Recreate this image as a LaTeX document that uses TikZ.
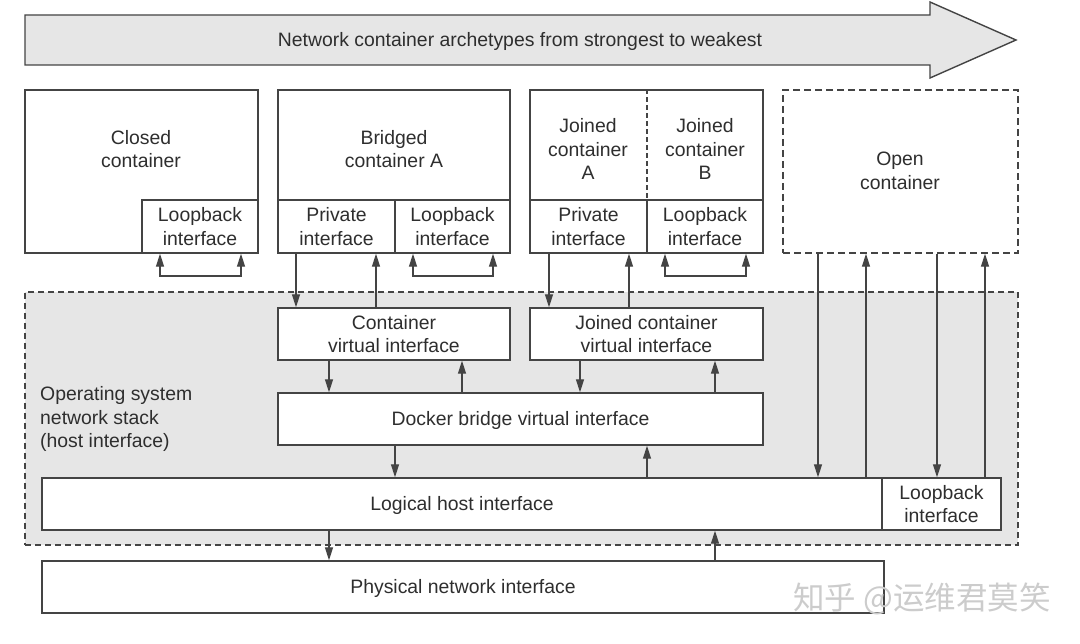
\documentclass[tikz,border=0pt]{standalone}
\usepackage{fontspec}
\setmainfont{Liberation Sans}
\newfontfamily\cjk{Noto Sans CJK SC}
\usetikzlibrary{arrows.meta}
\definecolor{ln}{HTML}{444444}
\definecolor{tx}{HTML}{2E2E2E}
\definecolor{fl}{HTML}{E6E6E6}
\begin{document}
\begin{tikzpicture}[x=1pt,y=-1pt,
  box/.style={draw=ln, line width=1.4pt, fill=white, inner sep=0pt, text=tx, align=center, font=\fontsize{19.4}{23.5}\selectfont},
  oneline/.style={text height=13.8pt, text depth=0pt},
  lbl/.style={text=tx, align=center, inner sep=0pt, font=\fontsize{19.4}{23.5}\selectfont},
  arr/.style={draw=ln, line width=1.3pt, -{Triangle[length=13pt,width=8pt]}},
  arrtwo/.style={draw=ln, line width=1.3pt, {Triangle[length=13pt,width=8pt]}-{Triangle[length=13pt,width=8pt]}},
  dsh/.style={dash pattern=on 7pt off 4pt}
]
\useasboundingbox (0,0) rectangle (1080,644);
\fill[white] (0,0) rectangle (1080,644);

% column and row coordinates
\foreach \c in {160,241,296,329,376,395,413,462,493,549,580,629,647,665,715,746,818,866,937,985}
  \coordinate (c\c) at (\c,0);
\coordinate (r276) at (0,276);

% top arrow
\draw[draw=ln, line width=1.4pt, fill=fl, line join=miter]
  (25,15) -- (930,15) -- (930,2) -- (1016,40) -- (930,78) -- (930,65) -- (25,65) -- cycle;
\node[lbl, oneline] (title) at (520,40) {Network container archetypes from strongest to weakest};

% OS region
\node[draw=ln, line width=1.2pt, fill=fl, dash pattern=on 6pt off 4pt, inner sep=0pt,
  minimum width=993pt, minimum height=253pt] (os) at (521.5,418.5) {};
\node[lbl, align=left, anchor=west] (oslbl) at (40,419) {Operating system\\network stack\\(host interface)};

% closed container
\node[box, minimum width=233pt, minimum height=163pt] (closed) at (141.5,171.5) {};
\node[lbl] (closedtxt) at (141,149) {Closed\\container};
\node[box, minimum width=116pt, minimum height=53pt] (closedlo) at (200,226.5) {Loopback\\interface};

% bridged container
\node[box, minimum width=232pt, minimum height=163pt] (bridged) at (394,171.5) {};
\node[lbl] (bridgedtxt) at (394,149) {Bridged\\container A};
\node[box, minimum width=117pt, minimum height=53pt] (bpriv) at (336.5,226.5) {Private\\interface};
\node[box, minimum width=115pt, minimum height=53pt] (blo) at (452.5,226.5) {Loopback\\interface};

% joined container
\node[box, minimum width=233pt, minimum height=163pt] (joined) at (646.5,171.5) {};
\node[box, minimum width=117pt, minimum height=53pt] (jpriv) at (588.5,226.5) {Private\\interface};
\node[box, minimum width=116pt, minimum height=53pt] (jlo) at (705,226.5) {Loopback\\interface};
\draw[draw=ln, line width=1.2pt, dash pattern=on 5pt off 3pt] (c647 |- joined.north) -- (c647 |- jlo.north);
\node[lbl] (jatxt) at (588,149) {Joined\\container\\A};
\node[lbl] (jbtxt) at (705,149) {Joined\\container\\B};

% open container
\node[box, dsh, minimum width=235pt, minimum height=163pt] (open) at (900.5,171.5) {};
\node[lbl] (opentxt) at (900,171) {Open\\container};

% inner interfaces
\node[box, minimum width=232pt, minimum height=52pt] (cvi) at (394,334) {Container\\virtual interface};
\node[box, minimum width=233pt, minimum height=52pt] (jcvi) at (646.5,334) {Joined container\\virtual interface};
\node[box, oneline, minimum width=485pt, minimum height=52pt] (docker) at (520.5,419) {Docker bridge virtual interface};
\node[box, oneline, minimum width=840pt, minimum height=52pt] (logical) at (462,504) {Logical host interface};
\node[box, minimum width=119pt, minimum height=52pt] (hostlo) at (941.5,504) {Loopback\\interface};
\node[box, oneline, minimum width=842pt, minimum height=52pt] (phys) at (463,587) {Physical network interface};

% loopback returns
\draw[arrtwo] (c160 |- closedlo.south) -- (c160 |- r276) -- (c241 |- r276) -- (c241 |- closedlo.south);
\draw[arrtwo] (c413 |- blo.south) -- (c413 |- r276) -- (c493 |- r276) -- (c493 |- blo.south);
\draw[arrtwo] (c665 |- jlo.south) -- (c665 |- r276) -- (c746 |- r276) -- (c746 |- jlo.south);

% container to virtual interfaces
\draw[arr] (c296 |- bpriv.south) -- (c296 |- cvi.north);
\draw[arr] (c376 |- cvi.north) -- (c376 |- bpriv.south);
\draw[arr] (c549 |- jpriv.south) -- (c549 |- jcvi.north);
\draw[arr] (c629 |- jcvi.north) -- (c629 |- jpriv.south);

% virtual interfaces to docker bridge
\draw[arr] (c329 |- cvi.south) -- (c329 |- docker.north);
\draw[arr] (c462 |- docker.north) -- (c462 |- cvi.south);
\draw[arr] (c580 |- jcvi.south) -- (c580 |- docker.north);
\draw[arr] (c715 |- docker.north) -- (c715 |- jcvi.south);

% docker bridge to logical host
\draw[arr] (c395 |- docker.south) -- (c395 |- logical.north);
\draw[arr] (c647 |- logical.north) -- (c647 |- docker.south);

% open container
\draw[arr] (c818 |- open.south) -- (c818 |- logical.north);
\draw[arr] (c866 |- logical.north) -- (c866 |- open.south);
\draw[arr] (c937 |- open.south) -- (c937 |- hostlo.north);
\draw[arr] (c985 |- hostlo.north) -- (c985 |- open.south);

% logical to physical
\draw[arr] (c329 |- logical.south) -- (c329 |- phys.north);
\draw[arr] (c715 |- phys.north) -- (c715 |- logical.south);

% watermark
\node[text=black!20, inner sep=0pt, font=\cjk\fontsize{31.5}{34}\selectfont] (wm) at (922,599) {知乎 @运维君莫笑};
\end{tikzpicture}
\end{document}
